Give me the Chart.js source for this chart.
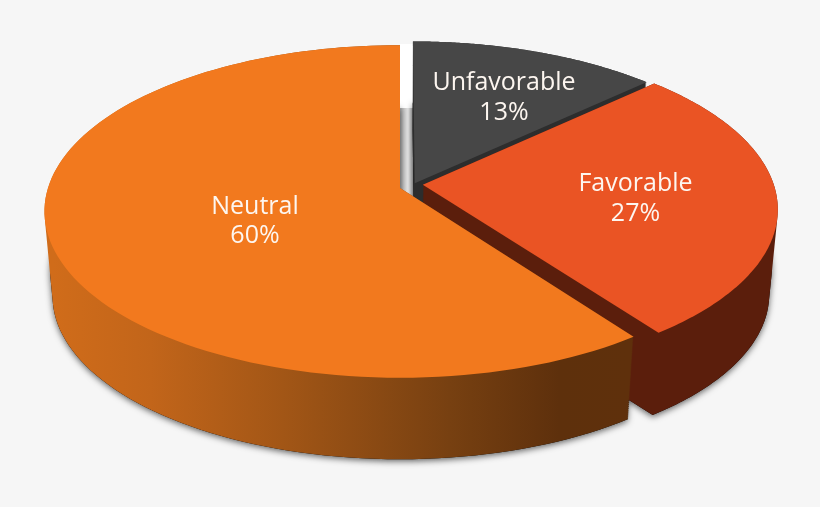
<!DOCTYPE html>
<html>
<head>
<meta charset="utf-8">
<style>
  html, body { margin: 0; padding: 0; background: #f6f6f6; }
  canvas { display: block; }
</style>
<script src="https://cdn.jsdelivr.net/npm/chart.js@4/dist/chart.umd.min.js"></script>
</head>
<body>
<canvas id="pie" width="820" height="507"></canvas>
<script>
  // Chart data
  const categories = ["Unfavorable", "Favorable", "Neutral"];
  const shares = [13, 27, 60];

  // Colours per slice
  const topColors = ["#474747", "#ea5424", "#f2791e"];
  const wallColors = ["#2d2d2d", "#5b1e0c", "#5f300c"];

  // Where each slice has been pulled out to, in disc units
  const pullX = [0.042, 0.065, 0];
  const pullY = [-0.03, -0.02, 0];

  // Label centres in pixels
  const labelX = [504, 635.5, 255];
  const labelY = [98, 199, 221.5];

  // Perspective of the top and bottom faces of the disc
  const TILT = 0.141;
  const topFace = { x0: 400, y0: 188, rx: 352, ry: 163 };
  const bottomFace = { x0: 400, y0: 273, rx: 344, ry: 160 };

  function project(face, u, v) {
    const w = 1 - TILT * v;
    return { x: face.x0 + (face.rx * u) / w, y: face.y0 + (face.ry * v) / w };
  }

  // Outline of a slice at height t, 0 on the top face and 1 on the bottom face
  function sliceOutline(arc, i, t) {
    const face = {
      x0: topFace.x0 + (bottomFace.x0 - topFace.x0) * t,
      y0: topFace.y0 + (bottomFace.y0 - topFace.y0) * t,
      rx: topFace.rx + (bottomFace.rx - topFace.rx) * t,
      ry: topFace.ry + (bottomFace.ry - topFace.ry) * t,
    };
    const pts = [project(face, pullX[i], pullY[i])];
    const steps = 120;
    for (let s = 0; s <= steps; s++) {
      const a = arc.startAngle + ((arc.endAngle - arc.startAngle) * s) / steps;
      pts.push(project(face, Math.cos(a) + pullX[i], Math.sin(a) + pullY[i]));
    }
    return pts;
  }

  function addPolygon(ctx, pts) {
    pts.forEach((p, n) => (n ? ctx.lineTo(p.x, p.y) : ctx.moveTo(p.x, p.y)));
    ctx.closePath();
  }

  // One path of stacked outlines, so the solid is filled once with no seams
  function addSolid(ctx, arc, i, fromT, levels) {
    for (let level = 0; level <= levels; level++) {
      addPolygon(ctx, sliceOutline(arc, i, fromT + ((1 - fromT) * level) / levels));
    }
  }

  function neutralWallFill(ctx) {
    const g = ctx.createLinearGradient(53, 0, 628, 0);
    g.addColorStop(0, "#d06c1a");
    g.addColorStop(0.17, "#c2651a");
    g.addColorStop(0.4, "#a25616");
    g.addColorStop(0.69, "#774011");
    g.addColorStop(0.88, "#5e300c");
    g.addColorStop(1, "#5f300c");
    return g;
  }

  function drawSlot(ctx) {
    // Light slot between the neutral slice and the unfavorable slice
    ctx.fillStyle = "#ffffff";
    ctx.fillRect(400, 44, 16, 156);
    const g = ctx.createLinearGradient(401, 0, 415, 0);
    g.addColorStop(0, "#aeaeae");
    g.addColorStop(0.5, "#e6e6e6");
    g.addColorStop(1, "#a0a0a0");
    ctx.fillStyle = g;
    ctx.fillRect(400, 108, 16, 92);
  }

  const perspectivePie = {
    id: "perspectivePie",
    // The arcs are laid out by the pie controller, only their drawing is replaced
    beforeDatasetsDraw(chart) {
      const ctx = chart.ctx;
      const arcs = chart.getDatasetMeta(0).data;

      ctx.save();
      drawSlot(ctx);

      // Soft shadow from the lower part of the solid
      ctx.save();
      ctx.shadowColor = "rgba(0,0,0,0.6)";
      ctx.shadowBlur = 6;
      ctx.shadowOffsetY = 2;
      ctx.fillStyle = "#000";
      ctx.beginPath();
      arcs.forEach((arc, i) => addSolid(ctx, arc, i, 0.7, 12));
      ctx.fill();
      ctx.restore();

      // Side walls, back to front
      arcs.forEach((arc, i) => {
        ctx.fillStyle = i === 2 ? neutralWallFill(ctx) : wallColors[i];
        ctx.beginPath();
        addSolid(ctx, arc, i, 0, 86);
        ctx.fill();
      });

      // Top faces
      arcs.forEach((arc, i) => {
        ctx.fillStyle = topColors[i];
        ctx.beginPath();
        addPolygon(ctx, sliceOutline(arc, i, 0));
        ctx.fill();
      });

      // Labels
      ctx.fillStyle = "#fdf6f0";
      ctx.font = '25px "Open Sans"';
      ctx.textAlign = "center";
      ctx.textBaseline = "middle";
      categories.forEach((name, i) => {
        ctx.fillText(name, labelX[i], labelY[i] - 14.75);
        ctx.fillText(shares[i] + "%", labelX[i], labelY[i] + 14.75);
      });

      ctx.restore();
      return false;
    },
  };

  new Chart(document.getElementById("pie"), {
    type: "pie",
    data: {
      labels: categories,
      datasets: [{ data: shares, backgroundColor: topColors, borderWidth: 0 }],
    },
    options: {
      responsive: false,
      animation: false,
      plugins: {
        legend: { display: false },
        tooltip: { enabled: false },
      },
    },
    plugins: [perspectivePie],
  });
</script>
</body>
</html>
